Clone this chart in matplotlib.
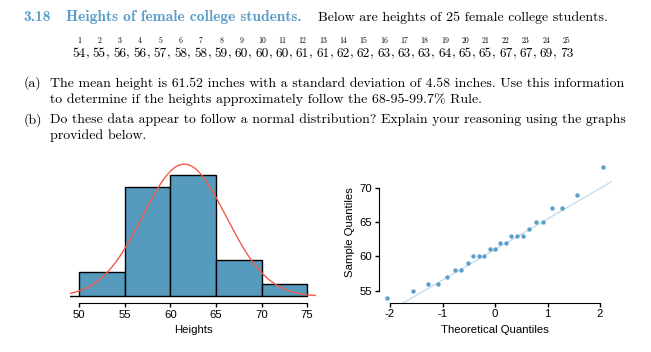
import matplotlib
matplotlib.use("Agg")
import matplotlib.pyplot as plt
import numpy as np
import pandas as pd
from statistics import NormalDist

# data from the exercise
heights = [54, 55, 56, 56, 57, 58, 58, 59, 60, 60, 60, 61, 61, 62, 62,
           63, 63, 63, 64, 65, 65, 67, 67, 69, 73]
mean_height = 61.52
sd_height = 4.58
bin_edges = [45, 50, 55, 60, 65, 70, 75]
hist_ticks = [50, 55, 60, 65, 70, 75]
qq_xticks = [-2, -1, 0, 1, 2]
qq_yticks = [55, 60, 65, 70]

W, H = 651, 352
plt.rcParams['axes.unicode_minus'] = False
plt.rcParams['font.family'] = ['Liberation Sans', 'DejaVu Sans']
fig = plt.figure(figsize=(W / 100, H / 100), dpi=100)
renderer = fig.canvas.get_renderer()


def px(x, y):
    return x / W, 1 - y / H


serif = ['cmr10', 'DejaVu Serif']
bold_serif = ['cmb10', 'DejaVu Serif']
title_blue = '#5a9dc8'
fs = 10
fs_bold = 11.2
fs_lab = 8.2


def put(x, y, s, size=fs, family=serif, **kw):
    return fig.text(*px(x, y), s, family=family, fontsize=size, va='baseline', **kw)


# ---- exercise text ----
put(23.3, 21, '3.18', size=fs_bold, family=bold_serif, color=title_blue)
put(66, 21, 'Heights of female college students.', size=fs_bold, family=bold_serif,
    color=title_blue)
put(318, 21, 'Below are heights of 25 female college students.')

for i, h in enumerate(heights):
    cx = 79 + i * 20.32
    t = put(cx, 56.7, str(h), size=9.6, ha='center')
    if i < len(heights) - 1:
        x_end = t.get_window_extent(renderer).x1
        put(x_end, 56.7, ',', size=9.6)
    put(cx, 43.3, str(i + 1), size=5.6, ha='center')

put(24, 86.5, '(a)')
put(50, 86.5, 'The mean height is 61.52 inches with a standard deviation of 4.58 inches. '
    'Use this information', size=9.92)
put(50, 103, 'to determine if the heights approximately follow the 68-95-99.7% Rule.')
put(24, 123.3, '(b)')
put(50, 123.3, 'Do these data appear to follow a normal distribution? Explain your '
    'reasoning using the graphs', size=9.9)
put(50, 139.3, 'provided below.')

# ---- histogram ----
ax1 = fig.add_axes([70.2 / W, 54.3 / H, 246 / W, 141 / H])
counts = pd.cut(pd.Series(heights), bin_edges, right=True).value_counts(sort=False).values
ax1.bar(bin_edges[:-1], counts, width=5, align='edge', color='#569bbd',
        edgecolor='black', linewidth=1)
xs = np.linspace(49, 76, 300)
dens = np.exp(-0.5 * ((xs - mean_height) / sd_height) ** 2) / (sd_height * np.sqrt(2 * np.pi))
ax1.plot(xs, dens * len(heights) * 5, color='#f05b4b', lw=1)
ax1.set_xlim(49, 76)
ax1.set_ylim(-0.1, 11.5)
for s in ['top', 'right', 'left']:
    ax1.spines[s].set_visible(False)
ax1.spines['bottom'].set_position(('outward', 4))
ax1.spines['bottom'].set_bounds(50, 75)
ax1.set_yticks([])
ax1.set_xticks(hist_ticks)
ax1.tick_params(axis='x', length=3, width=1, labelsize=fs_lab, pad=1.5)
ax1.set_xlabel('Heights', fontsize=fs_lab, labelpad=4)
ax1.patch.set_alpha(0)

# ---- normal probability plot ----
ax2 = fig.add_axes([378.6 / W, 49.2 / H, 232.9 / W, 141 / H])
n = len(heights)
sample_q = sorted(heights)
theo_q = [NormalDist().inv_cdf((i + 0.5) / n) for i in range(n)]
q1, q3 = np.percentile(heights, [25, 75])
z1, z3 = NormalDist().inv_cdf(0.25), NormalDist().inv_cdf(0.75)
slope = (q3 - q1) / (z3 - z1)
ax2.axline((z1, q1), slope=slope, color='#c6ddef', lw=1, zorder=1)
ax2.scatter(theo_q, sample_q, s=10, color='#5a9fc8', zorder=2, linewidths=0)
ax2.set_xlim(-2.218, 2.218)
ax2.set_ylim(53.24, 73.76)
for s in ['top', 'right']:
    ax2.spines[s].set_visible(False)
ax2.spines['bottom'].set_bounds(-2, 2)
ax2.spines['left'].set_bounds(55, 70)
ax2.set_xticks(qq_xticks)
ax2.set_yticks(qq_yticks)
ax2.tick_params(length=3, width=1, labelsize=fs_lab, pad=1.5)
ax2.set_xlabel('Theoretical Quantiles', fontsize=fs_lab, labelpad=4)
ax2.set_ylabel('Sample Quantiles', fontsize=fs_lab, labelpad=3)
ax2.patch.set_alpha(0)

fig.savefig('out.png', dpi=100)
